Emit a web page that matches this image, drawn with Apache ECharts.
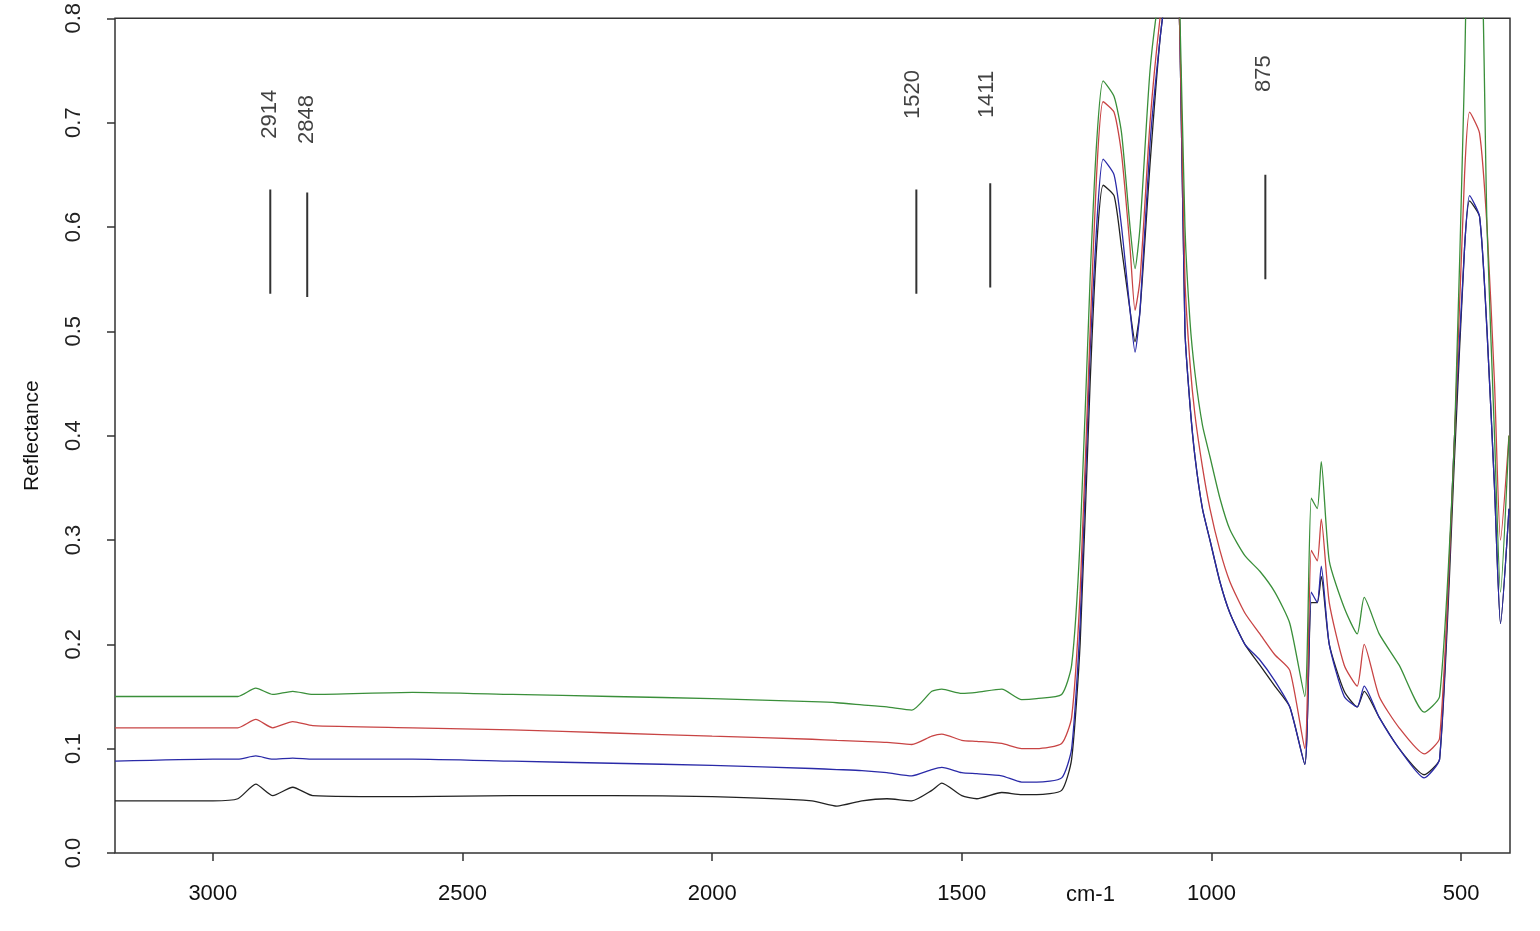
<!DOCTYPE html>
<html><head><meta charset="utf-8">
<script src="https://cdn.jsdelivr.net/npm/echarts@6/dist/echarts.min.js"></script>
<style>html,body{margin:0;padding:0;background:#fff}#c{width:1540px;height:931px}</style>
</head><body><div id="c"></div>
<script>
const wavenumber = [3196,3000,2950,2914,2880,2840,2800,2600,2400,2200,2000,1800,1750,1700,1650,1600,1560,1540,1500,1470,1420,1380,1350,1300,1280,1263,1243,1230,1217,1195,1180,1163,1153,1143,1123,1103,1085,1073,1063,1053,1043,1033,1018,1003,983,963,933,903,873,843,813,800,788,780,764,734,708,694,664,624,574,543,513,493,483,463,448,433,421,404];
const green = [.15,.15,.15,.158,.152,.155,.152,.154,.152,.15,.148,.145,.144,.142,.14,.137,.155,.157,.153,.154,.157,.147,.148,.152,.18,.3,.55,.68,.74,.725,.69,.6,.56,.6,.75,.83,.88,.9,.8,.6,.51,.46,.41,.38,.34,.31,.285,.27,.25,.22,.15,.34,.33,.375,.28,.235,.21,.245,.21,.18,.135,.15,.4,.75,.9,.9,.6,.4,.25,.4];
const red = [.12,.12,.12,.128,.12,.126,.122,.12,.118,.115,.112,.109,.108,.107,.106,.104,.112,.114,.108,.107,.105,.1,.1,.105,.13,.25,.5,.65,.72,.71,.67,.58,.52,.55,.7,.8,.86,.9,.78,.55,.47,.42,.37,.33,.29,.26,.23,.21,.19,.175,.1,.29,.28,.32,.24,.18,.16,.2,.15,.12,.095,.11,.4,.65,.71,.69,.6,.45,.3,.4];
const blue = [.088,.09,.09,.093,.09,.091,.09,.09,.088,.086,.084,.081,.08,.079,.077,.074,.08,.082,.077,.076,.074,.068,.068,.072,.1,.22,.48,.6,.665,.65,.6,.52,.48,.52,.68,.78,.85,.9,.78,.5,.43,.38,.33,.3,.26,.23,.2,.185,.165,.14,.085,.25,.24,.275,.2,.15,.14,.16,.13,.1,.072,.09,.4,.58,.63,.61,.5,.35,.22,.33];
const black = [.05,.05,.052,.066,.055,.063,.055,.054,.055,.055,.054,.05,.045,.05,.052,.05,.06,.067,.055,.052,.058,.056,.056,.06,.09,.2,.45,.58,.64,.63,.58,.52,.49,.52,.66,.78,.85,.9,.78,.5,.43,.38,.33,.3,.26,.23,.2,.18,.16,.14,.085,.24,.24,.265,.2,.155,.14,.155,.13,.1,.075,.09,.38,.58,.625,.61,.5,.35,.22,.33];
const xTicks = [3000,2500,2000,1500,1000,500];
const yTicks = [0,0.1,0.2,0.3,0.4,0.5,0.6,0.7,0.8];
const markerLabels = ['2914','2848','1520','1411','875'];
const markerX = [2885,2811,1591,1443,892];
const markerTop = [0.636,0.633,0.636,0.642,0.65];
const markerBottom = [0.536,0.533,0.536,0.542,0.55];
const labelX = [2885,2811,1598,1450,895];
const labelY = [0.708,0.703,0.727,0.727,0.747];

const font = 'Liberation Sans, Arial, sans-serif';
const zip = ys => wavenumber.map((x,i)=>[x,ys[i]]);
const series = [
  ['black',black,'#222222'],['blue',blue,'#2a2aa8'],['red',red,'#c84444'],['green',green,'#3a8f3a']
].map(([n,ys,c])=>({type:'line',name:n,data:zip(ys),symbol:'none',smooth:0.2,lineStyle:{color:c,width:1.3},clip:true,z:3}));
markerX.forEach((x,i)=>series.push({type:'line',data:[[x,markerBottom[i]],[x,markerTop[i]]],symbol:'none',lineStyle:{color:'#333',width:2},silent:true}));
series.push({type:'scatter',symbolSize:1,itemStyle:{color:'transparent'},
  data:labelX.map((x,i)=>({value:[x,labelY[i]],name:markerLabels[i]})),
  label:{show:true,position:'inside',rotate:90,formatter:p=>p.name,color:'#111',fontSize:22,fontFamily:font}});

const chart = echarts.init(document.getElementById('c'),null,{renderer:'canvas'});
chart.setOption({
  animation:false,
  grid:{left:115,right:30,top:17,bottom:78,show:true,borderColor:'#333',borderWidth:1.5},
  xAxis:{type:'value',inverse:true,min:402,max:3196,
    axisLine:{show:false},splitLine:{show:false},
    axisTick:{show:true,length:8,lineStyle:{color:'#333',width:1.5},customValues:xTicks},
    axisLabel:{customValues:xTicks,fontSize:22,color:'#111',fontFamily:font,margin:30,formatter:v=>String(v)}},
  yAxis:{type:'value',min:0,max:0.8,
    name:'Reflectance',nameLocation:'middle',nameGap:72,nameRotate:90,
    nameTextStyle:{fontSize:21,color:'#111',fontFamily:font},
    axisLine:{show:false},splitLine:{show:false},
    axisTick:{show:true,length:8,lineStyle:{color:'#333',width:1.5},customValues:yTicks},
    axisLabel:{customValues:yTicks,rotate:90,fontSize:22,color:'#222',fontFamily:font,margin:30,formatter:v=>v.toFixed(1)}},
  graphic:[{type:'text',left:1066,top:884,style:{text:'cm-1',fontSize:22,fill:'#111',fontFamily:font}}],
  series
});
</script></body></html>
